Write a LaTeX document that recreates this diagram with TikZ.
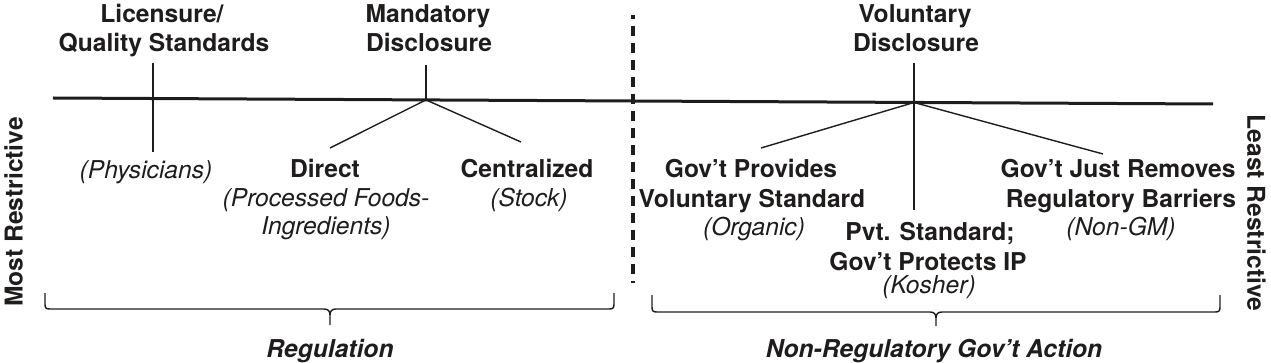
\documentclass[tikz,border=0pt]{standalone}
\usepackage{fontspec}
\setmainfont{TeX Gyre Heros}
\definecolor{ink}{rgb}{0.12,0.11,0.11}
\begin{document}
\begin{tikzpicture}[x=1pt,y=-1pt,
  lbl/.style={anchor=base,inner sep=0pt,text=ink,font=\fontsize{24.6}{29}\selectfont\bfseries},
  ex/.style={anchor=base,inner sep=0pt,text=ink,font=\fontsize{24.6}{29}\selectfont\itshape},
  grp/.style={anchor=base,inner sep=0pt,text=ink,font=\fontsize{24.6}{29}\selectfont\bfseries\itshape},
  side/.style={inner sep=0pt,text=ink,font=\fontsize{24.6}{29}\selectfont\bfseries},
  axisline/.style={draw=ink,line width=3pt},
  tickline/.style={draw=ink,line width=1.4pt},
  divider/.style={draw=ink,line width=3.2pt,dash pattern=on 10pt off 7pt,dash phase=6pt},
  bracepath/.style={draw=ink,line width=1.4pt,line join=round}]
\useasboundingbox (0,0) rectangle (1271,363);

% top labels
\node[lbl] (lic1) at (162,23) {Licensure/};
\node[lbl] (lic2) at (164,52) {Quality Standards};
\node[lbl] (man1) at (428,23) {Mandatory};
\node[lbl] (man2) at (429,52) {Disclosure};
\node[lbl] (vol1) at (915,23) {Voluntary};
\node[lbl] (vol2) at (916,52) {Disclosure};

% lower labels
\node[ex]  (phys) at (146,179) {(Physicians)};
\node[lbl] (dir)  at (325,178) {Direct};
\node[ex]  (proc) at (326,207) {(Processed Foods-};
\node[ex]  (ingr) at (326,235) {Ingredients)};
\node[lbl] (cen)  at (527,178) {Centralized};
\node[ex]  (stock) at (529,207) {(Stock)};
\node[lbl] (gp1) at (751,178) {Gov’t Provides};
\node[lbl] (gp2) at (752,208) {Voluntary Standard};
\node[ex]  (org) at (754,236) {(Organic)};
\node[lbl] (pvt1) at (930,241) {Pvt. Standard;};
\node[lbl] (pvt2) at (928,270) {Gov’t Protects IP};
\node[ex]  (kos)  at (929,294) {(Kosher)};
\node[lbl] (gj1) at (1118,178) {Gov’t Just Removes};
\node[lbl] (gj2) at (1121,208) {Regulatory Barriers};
\node[ex]  (ngm) at (1121,236) {(Non-GM)};

% group labels
\node[grp] (reg) at (330,357) {Regulation};
\node[grp] (nonreg) at (934,357) {Non-Regulatory Gov’t Action};

% side labels
\node[side,rotate=90] (most) at (13.5,212) {Most Restrictive};
\node[side,rotate=-90] (least) at (1256.5,213) {Least Restrictive};

% axis
\coordinate (axL) at (53,98);
\coordinate (axR) at (1213,104);
\path[axisline] (axL) -- (axR);

% licensure tick
\coordinate (licT) at (153,63);
\coordinate (licB) at (153,152);
\path[tickline] (licT) -- (licB);

% mandatory
\coordinate (manT) at (426,65);
\coordinate (manJ) at (426,99.9);
\coordinate (dirE) at (330,148);
\coordinate (cenE) at (521,142);
\path[tickline] (manT) -- (manJ);
\path[tickline] (dirE) -- (manJ) -- (cenE);

% voluntary
\coordinate (volT) at (914,63);
\coordinate (volJ) at (914,102.5);
\coordinate (volB) at (914,210);
\coordinate (gpE) at (761,148);
\coordinate (gjE) at (1103,154);
\path[tickline] (volT) -- (volB);
\path[tickline] (gpE) -- (volJ) -- (gjE);

% divider
\coordinate (divT) at (633,15);
\coordinate (divB) at (633,283);
\path[divider] (divT) -- (divB);

% left brace
\coordinate (lbA) at (45,293);
\coordinate (lbTip) at (330,325);
\coordinate (lbB) at (614,293);
\path[bracepath] (lbA) -- (45,304) .. controls (45,308) and (46,309) .. (50,309)
  -- (324,309) .. controls (328,309) and (330,311) .. (330,315) -- (lbTip);
\path[bracepath] (330,315) .. controls (330,311) and (332,309) .. (336,309)
  -- (609,309) .. controls (613,309) and (614,308) .. (614,304) -- (lbB);

% right brace
\coordinate (rbA) at (652,295);
\coordinate (rbTip) at (936,326);
\coordinate (rbB) at (1220,295);
\path[bracepath] (rbA) -- (652,307) .. controls (652,311) and (653,312) .. (657,312)
  -- (930,312) .. controls (934,312) and (936,314) .. (936,318) -- (rbTip);
\path[bracepath] (936,318) .. controls (936,314) and (938,312) .. (942,312)
  -- (1215,312) .. controls (1219,312) and (1220,311) .. (1220,307) -- (rbB);
\end{tikzpicture}
\end{document}
